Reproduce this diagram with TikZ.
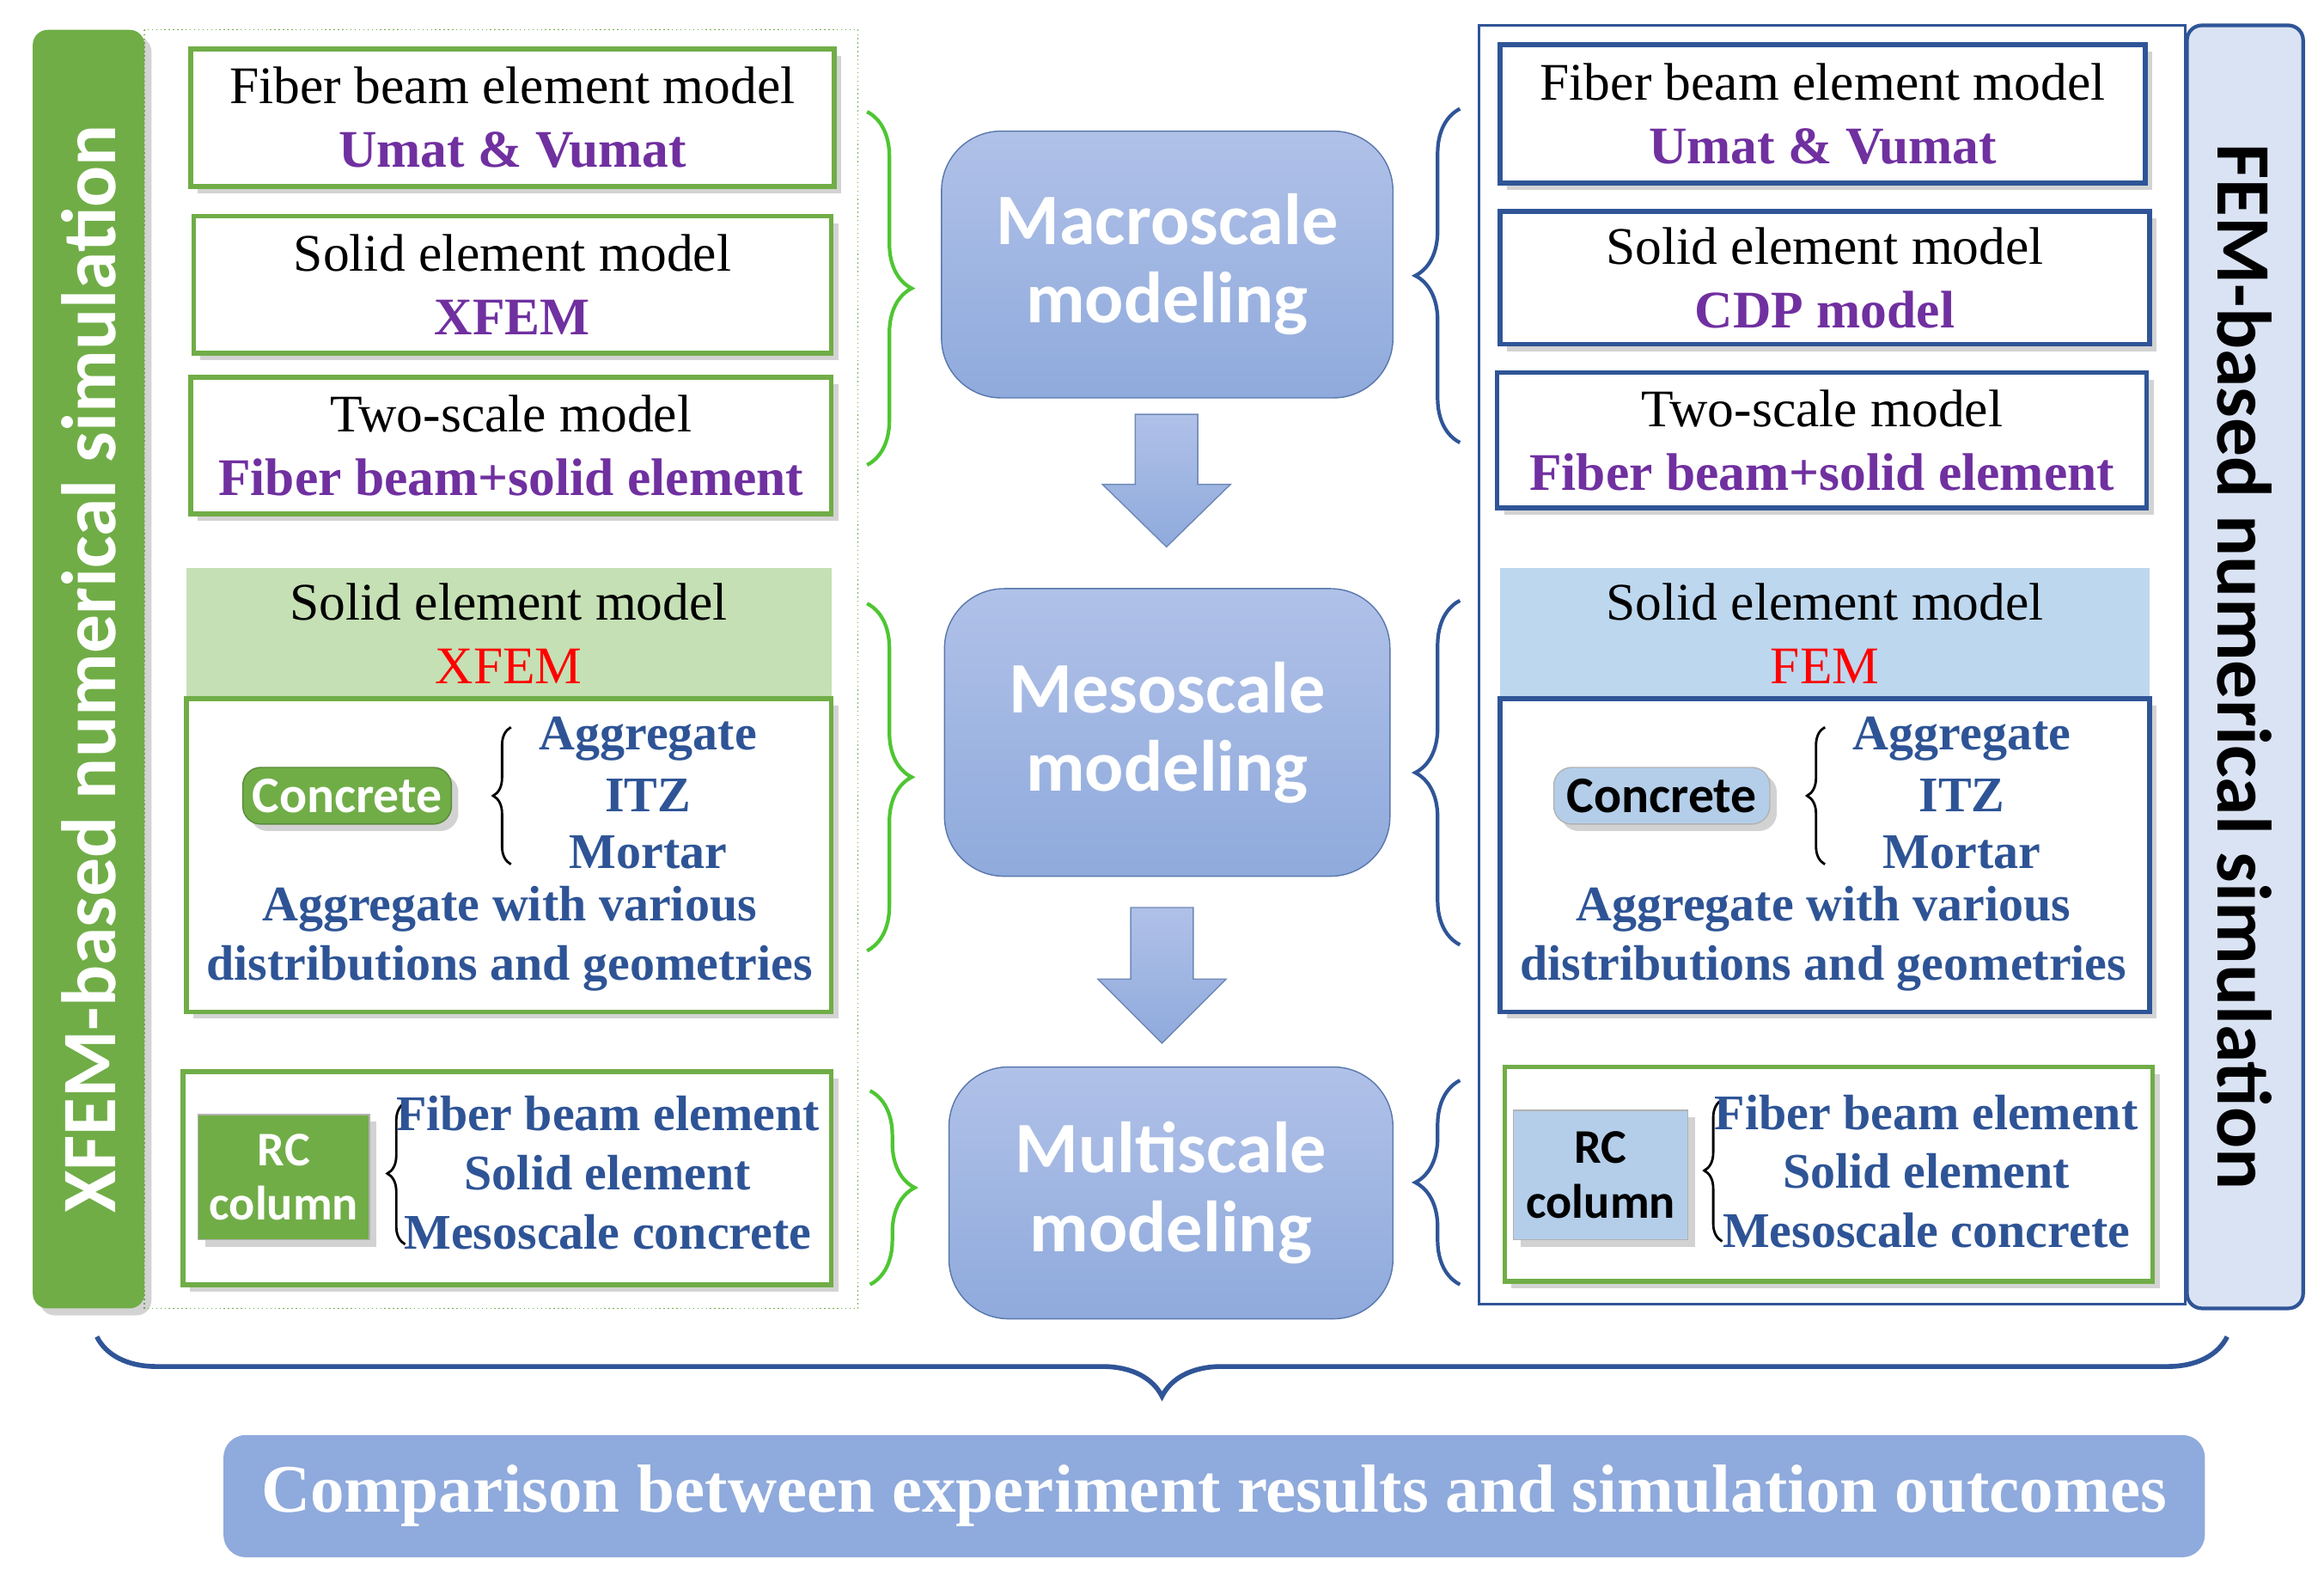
\documentclass[tikz,border=0pt]{standalone}
\usepackage{fontspec}
\setmainfont{Liberation Serif}
\newfontfamily\sansb{Carlito}
\usetikzlibrary{shadows,decorations.pathreplacing}
\definecolor{gbar}{RGB}{112,173,71}
\definecolor{ghead}{RGB}{197,224,180}
\definecolor{bhead}{RGB}{189,215,238}
\definecolor{bline}{RGB}{47,85,151}
\definecolor{btxt}{RGB}{46,84,150}
\definecolor{ptxt}{RGB}{112,48,160}
\definecolor{cfill}{RGB}{143,170,220}
\definecolor{ctop}{RGB}{176,193,232}
\definecolor{lbar}{RGB}{218,227,243}
\def\u{0.01734cm}
\newcommand{\rt}{\fontsize{17.5}{21}\selectfont}
\newcommand{\bt}{\fontsize{16.5}{19.5}\selectfont\bfseries}
\tikzstyle{gbox}=[draw=gbar,line width=1.6pt,fill=white,drop shadow={opacity=0.35},inner sep=0pt,align=center,font=\rt]
\tikzstyle{bbox}=[gbox,draw=bline]
\tikzstyle{lvl}=[rounded corners=40*\u,draw=bline!80,fill=cfill,inner sep=0pt,align=center,
  text=white,font=\sansb\bfseries\fontsize{24}{26}\selectfont,top color=ctop,bottom color=cfill]
\tikzstyle{brc}=[decorate,decoration={brace,amplitude=30*\u},line width=1.2pt]
\tikzstyle{sbrc}=[decorate,decoration={brace,amplitude=12*\u},line width=0.8pt]
\tikzstyle{blk}=[draw=bline!70,fill=cfill,top color=ctop,bottom color=cfill]
\begin{document}
\begin{tikzpicture}[x=\u,y=-\u]
  \useasboundingbox (0,0) rectangle (1560,1062);
  % side frames
  \draw[gbar,densely dotted] (97,20) rectangle (576,878);
  \draw[bline,thick] (993,17) rectangle (1467,875);
  \node[fill=gbar,rounded corners=10*\u,minimum width=75*\u,minimum height=858*\u,inner sep=0pt,
    drop shadow={opacity=0.35}] (lbar) at (59.5,449) {};
  \node[rotate=90,text=white,font=\sansb\bfseries\fontsize{25.5}{28}\selectfont] at (lbar) {XFEM-based numerical simulation};
  \node[fill=lbar,draw=bline,line width=1.2pt,rounded corners=10*\u,minimum width=78*\u,minimum height=861*\u,
    inner sep=0pt] (rbar) at (1507,447.5) {};
  \node[rotate=-90,font=\sansb\bfseries\fontsize{25.5}{28}\selectfont] at (rbar) {FEM-based numerical simulation};

  % left column
  \node[gbox,minimum width=432*\u,minimum height=92*\u] (lf1) at (344,79) {Fiber beam element model\\\bfseries\color{ptxt}Umat \& Vumat};
  \node[gbox,minimum width=428*\u,minimum height=92*\u] (lf2) at (344,191) {Solid element model\\\bfseries\color{ptxt}XFEM};
  \node[gbox,minimum width=430*\u,minimum height=92*\u] (lf3) at (343,299) {Two-scale model\\\bfseries\color{ptxt}Fiber beam+solid element};
  \node[fill=ghead,minimum width=433*\u,minimum height=88*\u,inner sep=0pt,align=center,font=\rt] (lh) at (341.5,425) {Solid element model\\\color{red}XFEM};
  \node[gbox,minimum width=433*\u,minimum height=210*\u] (lm) at (341.5,574) {};
  \node[fill=gbar,draw=gbar!80!black,rounded corners=12*\u,minimum width=140*\u,minimum height=38*\u,inner sep=0pt,
    text=white,font=\sansb\bfseries\fontsize{17}{19}\selectfont,drop shadow={opacity=0.35}] (lc) at (233,534) {Concrete};
  \draw[sbrc] (343,580) -- (343,488);
  \node[text=btxt,font=\bt] at (435,496) {Aggregate};
  \node[text=btxt,font=\bt] at (435,534) {ITZ};
  \node[text=btxt,font=\bt] at (435,572) {Mortar};
  \node[text=btxt,font=\bt,align=center] at (342,630) {Aggregate with various\\distributions and geometries};
  \node[gbox,minimum width=435*\u,minimum height=143*\u] (lmu) at (340.5,790.5) {};
  \node[fill=gbar,draw=gray!60,minimum width=115*\u,minimum height=84*\u,inner sep=0pt,align=center,
    text=white,font=\sansb\bfseries\fontsize{16}{18}\selectfont,drop shadow={opacity=0.35}] (lrc) at (190.5,790) {RC\\column};
  \draw[sbrc] (272,835) -- (272,740);
  \node[text=btxt,font=\bt,align=center] at (408,787) {Fiber beam element\\Solid element\\Mesoscale concrete};

  % center column
  \node[lvl,minimum width=303*\u,minimum height=179*\u] (mac) at (783.5,177.5) {Macroscale\\modeling};
  \node[lvl,minimum width=299*\u,minimum height=193*\u] (mes) at (783.5,491.5) {Mesoscale\\modeling};
  \node[lvl,minimum width=298*\u,minimum height=169*\u] (mul) at (786,800.5) {Multiscale\\modeling};
  \draw[blk] (762,278) -- (804,278) -- (804,325) -- (826,325) -- (783,367) -- (740,325) -- (762,325) -- cycle;
  \draw[blk] (759,609) -- (801,609) -- (801,657) -- (823,657) -- (780,700) -- (737,657) -- (759,657) -- cycle;

  % braces
  \draw[brc,gbar!70!green] (582,75) -- (582,312);
  \draw[brc,gbar!70!green] (582,405) -- (582,638);
  \draw[brc,gbar!70!green] (584,732) -- (584,862);
  \draw[brc,bline] (980,297) -- (980,73);
  \draw[brc,bline] (980,634) -- (980,403);
  \draw[brc,bline] (980,862) -- (980,725);

  % right column
  \node[bbox,minimum width=433*\u,minimum height=93*\u] (rf1) at (1223.5,76.5) {Fiber beam element model\\\bfseries\color{ptxt}Umat \& Vumat};
  \node[bbox,minimum width=436*\u,minimum height=89*\u] (rf2) at (1225,186.5) {Solid element model\\\bfseries\color{ptxt}CDP model};
  \node[bbox,minimum width=436*\u,minimum height=91*\u] (rf3) at (1223,295.5) {Two-scale model\\\bfseries\color{ptxt}Fiber beam+solid element};
  \node[fill=bhead,minimum width=436*\u,minimum height=88*\u,inner sep=0pt,align=center,font=\rt] (rh) at (1225,425) {Solid element model\\\color{red}FEM};
  \node[bbox,minimum width=436*\u,minimum height=210*\u] (rm) at (1225,574) {};
  \node[fill=bhead!80!cfill,draw=gray!60,rounded corners=12*\u,minimum width=145*\u,minimum height=38*\u,inner sep=0pt,
    font=\sansb\bfseries\fontsize{17}{19}\selectfont,drop shadow={opacity=0.35}] (rc) at (1115.5,534) {Concrete};
  \draw[sbrc] (1225,580) -- (1225,488);
  \node[text=btxt,font=\bt] at (1317,496) {Aggregate};
  \node[text=btxt,font=\bt] at (1317,534) {ITZ};
  \node[text=btxt,font=\bt] at (1317,572) {Mortar};
  \node[text=btxt,font=\bt,align=center] at (1224,630) {Aggregate with various\\distributions and geometries};
  \node[gbox,minimum width=435*\u,minimum height=144*\u] (rmu) at (1227.5,788) {};
  \node[fill=bhead!80!cfill,draw=gray!60,minimum width=117*\u,minimum height=87*\u,inner sep=0pt,align=center,
    font=\sansb\bfseries\fontsize{16}{18}\selectfont,drop shadow={opacity=0.35}] (rrc) at (1074.5,788.5) {RC\\column};
  \draw[sbrc] (1156,833) -- (1156,738);
  \node[text=btxt,font=\bt,align=center] at (1293,786) {Fiber beam element\\Solid element\\Mesoscale concrete};

  % bottom
  \draw[brc,bline,line width=1.6pt,decoration={amplitude=40*\u}] (1495,897) -- (65,897);
  \node[fill=cfill,rounded corners=15*\u,minimum width=1330*\u,minimum height=82*\u,inner sep=0pt,text=white,
    font=\fontsize{22.5}{25}\selectfont\bfseries] (cmp) at (815,1004) {Comparison between experiment results and simulation outcomes};
\end{tikzpicture}
\end{document}
